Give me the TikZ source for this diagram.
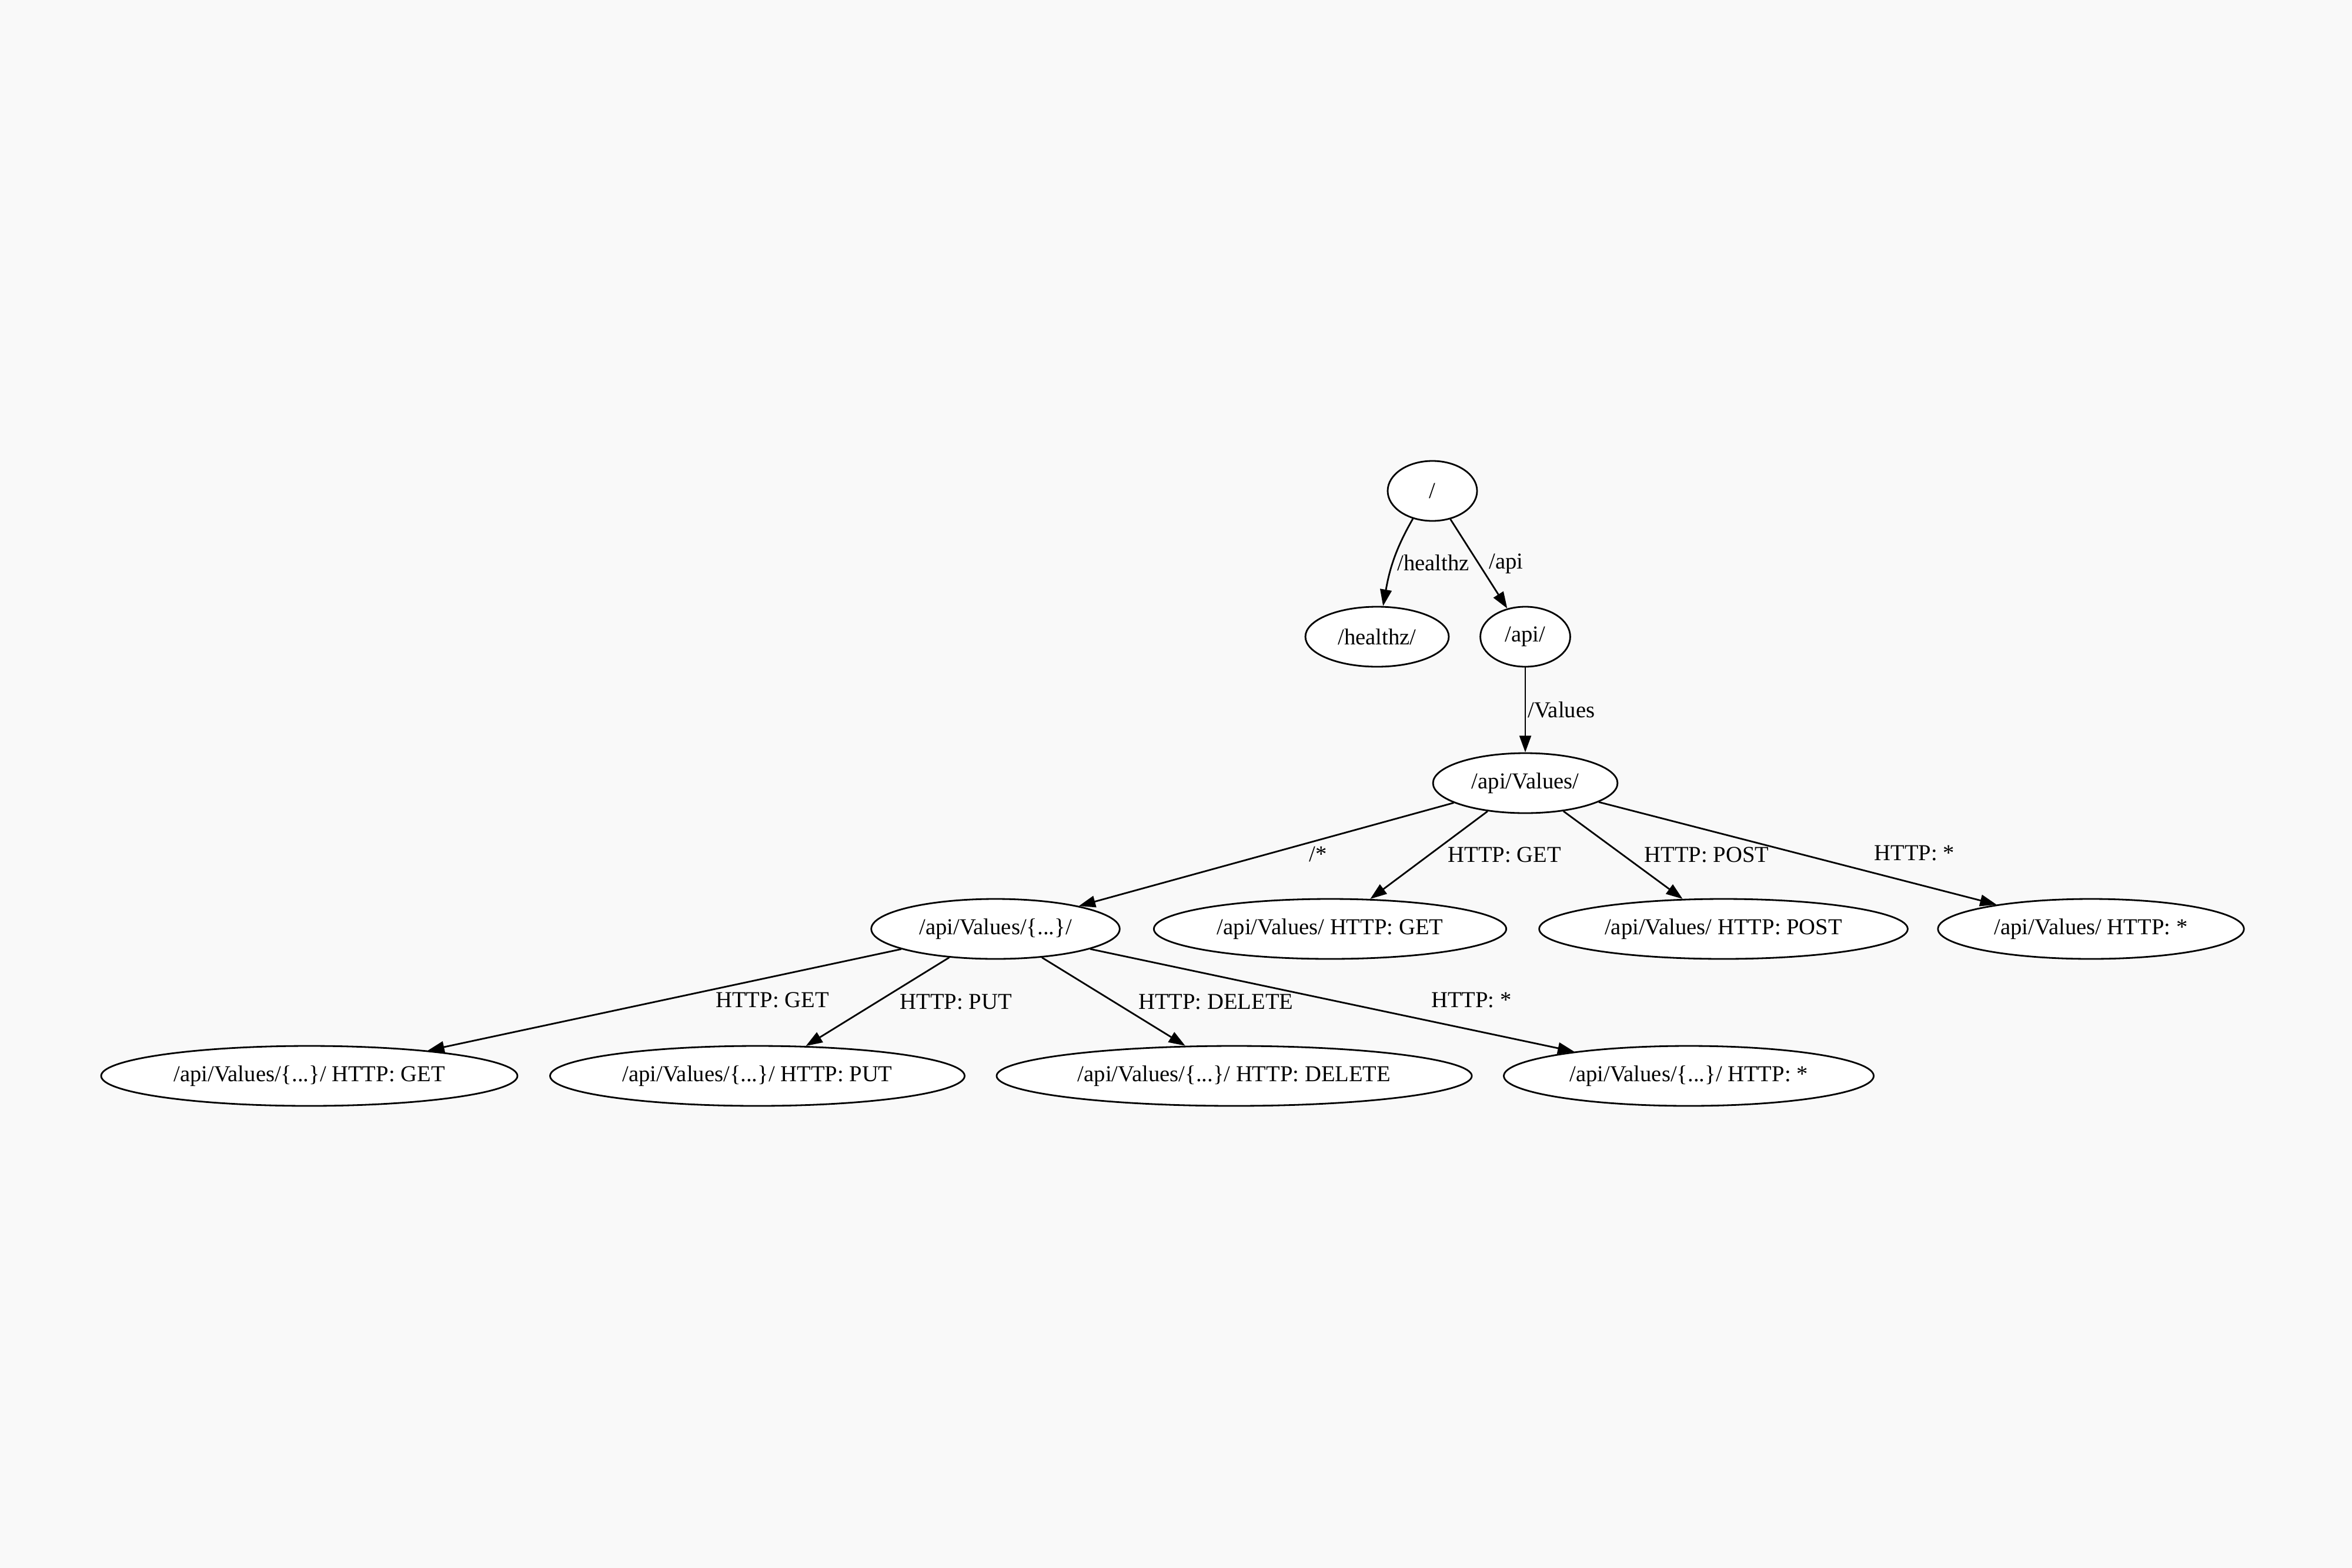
\documentclass[tikz,border=0pt]{standalone}
\usepackage{fontspec}
\setmainfont{Liberation Serif}
\usetikzlibrary{shapes.geometric,arrows.meta,positioning}
\definecolor{paper}{HTML}{F9F9F9}
\begin{document}
\begin{tikzpicture}[x=1cm,y=-1cm,
    route/.style={ellipse,draw,fill=white,line width=0.8pt,minimum width=1.52cm,minimum height=1.02cm,inner xsep=5.6pt,inner ysep=0pt},
    lbl/.style={inner sep=0pt},
    hop/.style={-{Triangle[length=8pt,width=5.6pt]},line width=0.8pt}]
   \fontsize{11pt}{13pt}\selectfont
   \fill[paper] (0,0) rectangle (40,26.67);
   \node[route] (root)    at (24.36,8.35)  {/};
   \node[route] (healthz) at (23.42,10.83) {/healthz/};
   \node[route] (api)     at (25.94,10.83) {/api/};
   \node[route] (values)  at (25.94,13.32) {/api/Values/};
   \node[route] (vid)     at (16.93,15.80) {/api/Values/\{...\}/};
   \node[route] (vget)    at (22.62,15.80) {/api/Values/ HTTP: GET};
   \node[route] (vpost)   at (29.31,15.80) {/api/Values/ HTTP: POST};
   \node[route] (vall)    at (35.56,15.80) {/api/Values/ HTTP: *};
   \node[route] (iget)    at (5.26,18.30)  {/api/Values/\{...\}/ HTTP: GET};
   \node[route] (iput)    at (12.88,18.30) {/api/Values/\{...\}/ HTTP: PUT};
   \node[route] (idel)    at (20.99,18.30) {/api/Values/\{...\}/ HTTP: DELETE};
   \node[route] (iall)    at (28.72,18.30) {/api/Values/\{...\}/ HTTP: *};
   \draw[hop] (root.-125) to[out=-120,in=80] node[lbl,right=0.05cm,yshift=-1pt] {/healthz} (healthz.79);
   \foreach \a/\b/\l/\g in
     {root/api/{/api}/0.16cm,
      api/values/{/Values}/0.03cm,
      values/vid/{/*}/0.72cm,
      values/vget/{HTTP: GET}/0.31cm,
      values/vpost/{HTTP: POST}/0.35cm,
      values/vall/{HTTP: *}/1.29cm,
      vid/iget/{HTTP: GET}/0.86cm,
      vid/iput/{HTTP: PUT}/0.37cm,
      vid/idel/{HTTP: DELETE}/0.41cm,
      vid/iall/{HTTP: *}/1.67cm
     }
     \draw[hop] (\a) -- node[lbl,right=\g] {\l} (\b);
\end{tikzpicture}
\end{document}
